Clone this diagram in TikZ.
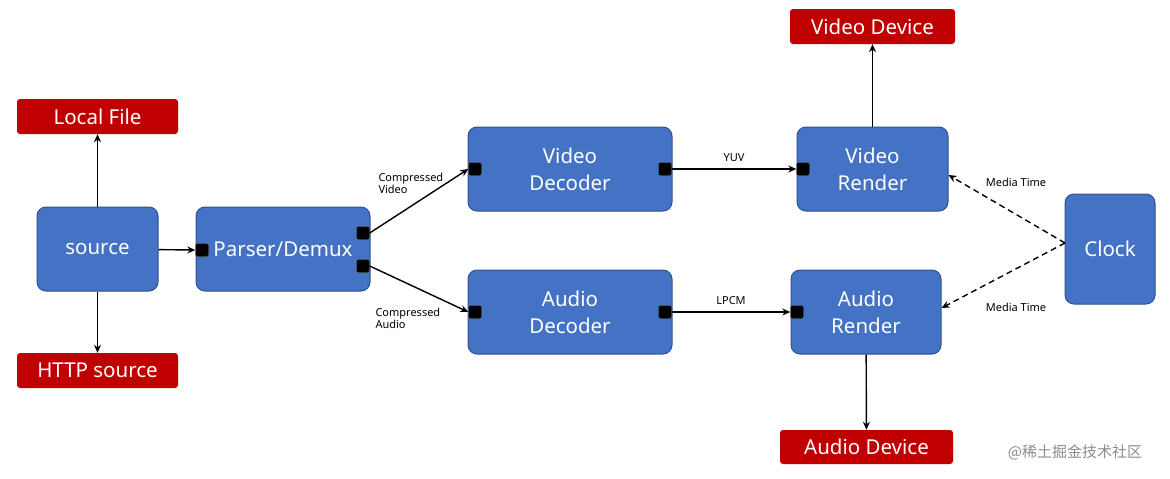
\documentclass[tikz,border=0pt]{standalone}
\usepackage{fontspec}
\setmainfont{Noto Sans}
\newfontfamily\cjk{Noto Sans CJK SC}
\usetikzlibrary{arrows.meta}
\definecolor{bfill}{HTML}{4472C4}
\definecolor{bdraw}{HTML}{2F528F}
\definecolor{rfill}{HTML}{C00000}
\begin{document}
\begin{tikzpicture}[x=1pt,y=-1pt,
 blk/.style={draw=bdraw,fill=bfill,rounded corners=9pt,line width=1pt,text=white,align=center,font=\fontsize{20.5}{27}\selectfont,inner sep=0},
 dev/.style={fill=rfill,rounded corners=3pt,text=white,font=\fontsize{20.5}{24}\selectfont,inner sep=0},
 port/.style={fill=black,draw=black!60,rounded corners=2pt,minimum size=13pt,inner sep=0},
 arr/.style={-{Stealth[length=8pt,width=7pt]},line width=1.4pt},
 lab/.style={font=\fontsize{11}{12}\selectfont,align=left}]
\useasboundingbox (0,0) rectangle (1170,479);
\node[dev,minimum width=161pt,minimum height=35pt] (lf) at (97.5,116.5) {Local File};
\node[dev,minimum width=161pt,minimum height=35pt] (http) at (97.5,370.5) {HTTP source};
\node[dev,minimum width=165pt,minimum height=35pt] (vdev) at (872.5,26.5) {Video Device};
\node[dev,minimum width=173pt,minimum height=34pt] (adev) at (866.5,447) {Audio Device};
\node[blk,minimum width=121pt,minimum height=84pt] (src) at (97.5,249) {source};
\node[blk,minimum width=174pt,minimum height=84pt] (par) at (283,249) {Parser/Demux};
\node[blk,minimum width=204pt,minimum height=84pt] (vd) at (570,169) {Video\\Decoder};
\node[blk,minimum width=204pt,minimum height=84pt] (ad) at (570,312) {Audio\\Decoder};
\node[blk,minimum width=151pt,minimum height=84pt] (vr) at (872.5,169) {Video\\Render};
\node[blk,minimum width=150pt,minimum height=84pt] (ar) at (866,312) {Audio\\Render};
\node[blk,minimum width=90pt,minimum height=110pt] (clk) at (1110,249) {Clock};
\node[port] (pin) at (202,250) {};
\node[port] (pv) at (363,233) {};
\node[port] (pa) at (363,266) {};
\node[port] (vdi) at (475,169) {};
\node[port] (vdo) at (665,169) {};
\node[port] (vri) at (803,169) {};
\node[port] (adi) at (475,312) {};
\node[port] (ado) at (665,312) {};
\node[port] (ari) at (797,312) {};
\draw[arr] (src) -- (pin.west);
\draw[arr] (src) -- (lf);
\draw[arr] (src) -- (http);
\draw[arr] (pv.east) -- (vdi.west);
\draw[arr] (pa.east) -- (adi.west);
\draw[arr] (vdo.east) -- node[lab,above=3pt]{YUV} (vri.west);
\draw[arr] (ado.east) -- node[lab,above=3pt]{LPCM} (ari.west);
\draw[arr] (vr) -- (vdev);
\draw[arr] (ar) -- (adev);
\coordinate (ck) at (1065,243);
\draw[arr,dash pattern=on 6pt off 4pt] (ck) -- (vr.east|-0,175);
\draw[arr,dash pattern=on 6pt off 4pt] (ck) -- (ar.east|-0,308);
\node[lab,anchor=west] (cv) at (375,183) {Compressed\\Video};
\node[lab,anchor=west] (ca) at (372,318) {Compressed\\Audio};
\node[lab] (mt1) at (1016,182) {Media Time};
\node[lab] (mt2) at (1016,307) {Media Time};
\node[font=\cjk\fontsize{15}{18}\selectfont,text=black!45] (wm) at (1075,452) {@稀土掘金技术社区};
\end{tikzpicture}
\end{document}
